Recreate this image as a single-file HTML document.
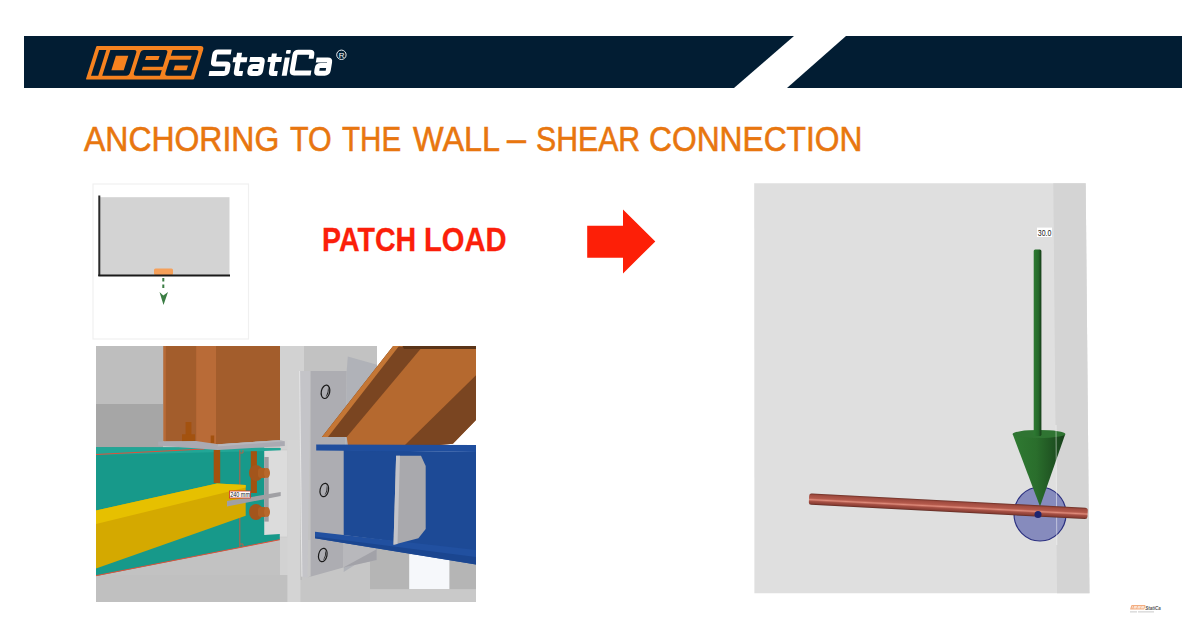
<!DOCTYPE html>
<html><head><meta charset="utf-8">
<style>
html,body{margin:0;padding:0;background:#fff;}
body{width:1200px;height:630px;position:relative;overflow:hidden;font-family:"Liberation Sans",sans-serif;}
.abs{position:absolute;}
.tw{top:119px;font-size:35px;-webkit-text-stroke:0.6px #e8760f;color:#e8760f;white-space:nowrap;line-height:40px;transform-origin:0 0;}
.pw{top:222.5px;font-size:33.5px;font-weight:bold;color:#fb1f0a;white-space:nowrap;line-height:34px;transform-origin:0 0;-webkit-text-stroke:0.3px #fb1f0a;}
#statica_unused{left:208px;top:44px;font-size:36px;font-weight:bold;font-style:italic;color:#fff;white-space:nowrap;line-height:40px;transform-origin:0 0;}
</style></head>
<body>
<svg class="abs" style="left:0;top:0" width="1200" height="630" viewBox="0 0 1200 630">
  <!-- header bar -->
  <polygon points="24,36 794,36 734,88 24,88" fill="#021d33"/>
  <polygon points="846,36 1182,36 1182,88 787,88" fill="#021d33"/>
  <!-- IDEA logo -->
  <g transform="translate(85.8,79.6) skewX(-17.5)">
    <path d="M0.80,-33.50 L104.00,-33.50 Q108.00,-33.50 108.00,-29.50 L108.00,-0.80 Q108.00,0.00 107.20,0.00 L0.80,0.00 Q0.00,0.00 0.00,-0.80 L0.00,-32.70 Q0.00,-33.50 0.80,-33.50 Z" fill="#f6821f"/>
    <rect x="4" y="-29.6" width="7.2" height="25.7" fill="#021d33"/>
    <path d="M15.20,-29.60 L39.00,-29.60 Q42.00,-29.60 42.00,-26.60 L42.00,-6.90 Q42.00,-3.90 39.00,-3.90 L15.20,-3.90 Q15.20,-3.90 15.20,-3.90 L15.20,-29.60 Q15.20,-29.60 15.20,-29.60 Z" fill="#021d33"/>
    <rect x="22.6" y="-23.8" width="12.4" height="14.4" fill="#f6821f"/>
    <path d="M49.00,-29.60 L70.00,-29.60 Q73.00,-29.60 73.00,-26.60 L73.00,-3.90 Q73.00,-3.90 73.00,-3.90 L49.00,-3.90 Q46.00,-3.90 46.00,-6.90 L46.00,-26.60 Q46.00,-29.60 49.00,-29.60 Z" fill="#021d33"/>
    <rect x="53" y="-23.6" width="13.3" height="4" fill="#f6821f"/>
    <rect x="53" y="-12.8" width="22" height="3.4" fill="#f6821f"/>
    <path d="M77.50,-29.60 L101.00,-29.60 Q104.00,-29.60 104.00,-26.60 L104.00,-3.90 Q104.00,-3.90 104.00,-3.90 L80.50,-3.90 Q77.50,-3.90 77.50,-6.90 L77.50,-29.60 Q77.50,-29.60 77.50,-29.60 Z" fill="#021d33"/>
    <rect x="75" y="-23.9" width="23.3" height="4" fill="#f6821f"/>
    <rect x="84.7" y="-14" width="13.1" height="4.6" fill="#f6821f"/>
  </g>
</svg>

<!-- patch load diagram -->
<svg class="abs" style="left:0;top:0" width="1200" height="630" viewBox="0 0 1200 630">
  <rect x="93" y="184" width="155.5" height="155" fill="#fff" stroke="#f0f0f0" stroke-width="1.2"/>
  <rect x="99" y="197.2" width="130.5" height="78.3" fill="#d3d3d3"/>
  <rect x="98.3" y="195.5" width="2" height="80.5" fill="#2a2a2a"/>
  <rect x="154" y="268.5" width="19" height="6.5" rx="1.5" fill="#f5a05a"/>
  <rect x="98.3" y="274.5" width="131.7" height="2" fill="#1a1a1a"/>
  <rect x="162.3" y="278" width="2" height="3.5" fill="#3b7d44"/>
  <rect x="162.3" y="284.5" width="2" height="3.5" fill="#3b7d44"/>
  <polygon points="159.5,292 163.3,295.5 168,292 163.5,305" fill="#3b7d44"/>
</svg>
<!-- 3D connection render -->
<svg class="abs" style="left:0;top:0" width="1200" height="630" viewBox="0 0 1200 630">
  <rect x="96" y="346" width="380" height="256" fill="#c2c2c2"/>
  <!-- bg zones -->
  <rect x="96" y="346" width="67" height="58" fill="#bebebe"/>
  <rect x="96" y="404" width="67" height="46" fill="#a6a6a6"/>
  <rect x="280" y="346" width="24" height="256" fill="#d2d2d2"/>
  <rect x="304" y="346" width="73" height="205" fill="#c2c2c2"/>
  <polygon points="377,346 476,346 476,602 377,602" fill="#ffffff"/>
  <rect x="96" y="575" width="200" height="27" fill="#c0c0c0"/>
  <rect x="296" y="540" width="180" height="62" fill="#c6c6c6"/>
  <rect x="370" y="549" width="106" height="40.5" fill="#b5b5b5"/>
  <rect x="409.2" y="554.2" width="40.2" height="35" fill="#f6f8fb"/>
  <rect x="370" y="589.2" width="106" height="12.5" fill="#c9c9c9"/>
  <!-- end plate white zone behind teal beam -->
  <rect x="263" y="450" width="37" height="85" fill="#e2e2e2"/>
  <!-- orange column -->
  <polygon points="163.5,346 280,346 280,440.2 218,444.5 196,441.5 163.5,441.5" fill="#a35d2c"/>
  <rect x="163.5" y="346" width="2.3" height="95" fill="#b86c38"/>
  <polygon points="196.2,346 216,346 216,444.5 196.2,443" fill="#b96b37"/>
  <!-- column bolts -->
  <rect x="185.6" y="422" width="5.8" height="13" fill="#a3520f"/>
  <rect x="182" y="434.3" width="13" height="7" fill="#a3520f"/>
  <rect x="210.7" y="435.5" width="3.5" height="7.5" fill="#a3520f"/>
  <!-- teal beam -->
  <rect x="264" y="450" width="23.4" height="87" fill="#dcdcdc" stroke="#c8c8c8" stroke-width="0.6"/>
  <rect x="287.4" y="440" width="13" height="162" fill="#d4d4d4"/>
  <rect x="300.5" y="440" width="1.5" height="140" fill="#bcbcbc"/>
  <polygon points="96,447.2 264.2,447.5 264.2,535 279.8,534 279.8,539.7 96,576" fill="#17998a"/>
  <polygon points="96,447.2 280.7,447.8 280.7,450.3 264.2,451 96,455" fill="#22a696"/>
  <polyline points="96,454.5 204.3,449" fill="none" stroke="#e0503a" stroke-width="1"/>
  <polyline points="96,575.7 279.8,539.7" fill="none" stroke="#e0503a" stroke-width="1"/>
  <line x1="239.8" y1="450" x2="239.8" y2="548" stroke="#d4553e" stroke-width="0.9"/>
  <polyline points="239.8,453 243,453 243,450" fill="none" stroke="#d4553e" stroke-width="0.8"/>
  <polyline points="239.8,544 243,544 243,547" fill="none" stroke="#d4553e" stroke-width="0.8"/>
  <!-- plate under column -->
  <polygon points="158.2,441.4 196,441 218,444.3 278.4,440.2 284.8,441.3 284.8,446 217.7,450 158.2,445.6" fill="#aaaab2"/>
  <polygon points="218,444.3 278.4,440.2 284.8,441.3 217.7,446.5" fill="#b6b6bc"/>
  <!-- vertical thin plate -->
  <rect x="264.2" y="457" width="4.5" height="64.6" fill="#9d9da2"/>
  <!-- bolt stems -->
  <rect x="213.7" y="450" width="6.5" height="33" fill="#a3520f"/>
  <rect x="250.8" y="451.2" width="6.1" height="41.8" fill="#a3520f"/>
  <!-- yellow beam -->
  <polygon points="96,510.5 217,483.6 245.7,485 245.7,515.7 96,568.5" fill="#d4a900"/>
  <polygon points="96,510.5 217,483.6 245.7,485 245.7,487.5 96,524" fill="#e6c000"/>
  <!-- gray bar -->
  <polygon points="227,501 280.7,492.1 280.7,495.9 227,506.5" fill="#a0a0a4"/>
  <!-- bolt heads -->
  <ellipse cx="256" cy="473" rx="7" ry="8" fill="#a3551c"/>
  <rect x="258" y="468" width="9" height="10" rx="3" fill="#ad5e22"/>
  <ellipse cx="267" cy="473" rx="3" ry="5" fill="#b8682c"/>
  <ellipse cx="256" cy="512" rx="7" ry="8" fill="#a3551c"/>
  <rect x="258" y="507" width="9" height="10" rx="3" fill="#ad5e22"/>
  <ellipse cx="267" cy="512" rx="3" ry="5" fill="#b8682c"/>
  <!-- label -->
  <rect x="229.5" y="491" width="21" height="7" fill="#fff" stroke="#d03020" stroke-width="0.8"/>
  <text x="230.2" y="497.2" font-size="6.8" textLength="19.8" lengthAdjust="spacingAndGlyphs" font-family="Liberation Sans" fill="#111">240 mm</text>
  <!-- end plate -->
  <polygon points="299.3,371 310.6,371 307.5,577.5 301.7,576.7" fill="#c4c4c8"/>
  <line x1="299.6" y1="371" x2="301.9" y2="576.7" stroke="#eeeeee" stroke-width="0.8"/>
  <polygon points="310.6,371 346.7,371 343.3,567.5 307.5,577.5 310.6,576.3" fill="#adadb2"/>
  <polygon points="346.7,371 347.8,356.5 377,364.8 377,551 343.7,572" fill="#b0b2b8"/>
  <g transform="translate(325.5,391.8) rotate(12)"><ellipse cx="0" cy="0" rx="4.2" ry="6.8" fill="none" stroke="#1a1a1a" stroke-width="1.2"/><path d="M1.5,-5.5 Q4.6,0 1.2,5.8 Q3,0 1.5,-5.5 Z" fill="#1a1a1a"/></g>
  <g transform="translate(324.3,490) rotate(12)"><ellipse cx="0" cy="0" rx="4.2" ry="6.8" fill="none" stroke="#1a1a1a" stroke-width="1.2"/><path d="M1.5,-5.5 Q4.6,0 1.2,5.8 Q3,0 1.5,-5.5 Z" fill="#1a1a1a"/></g>
  <g transform="translate(322.8,555) rotate(12)"><ellipse cx="0" cy="0" rx="4.2" ry="6.8" fill="none" stroke="#1a1a1a" stroke-width="1.2"/><path d="M1.5,-5.5 Q4.6,0 1.2,5.8 Q3,0 1.5,-5.5 Z" fill="#1a1a1a"/></g>
  <!-- gusset below blue beam -->
  <polygon points="343.3,542.5 376.7,549.2 376.7,560 343.3,567.5" fill="#b8b8bc"/>
  <polygon points="376.7,549.2 376.7,560 343.3,567.5" fill="#a2a2a8"/>
  <!-- orange inclined beam -->
  <polygon points="322,437 393.2,346 476,346 476,420 452.9,443.8 401.4,448.6 348,446 346.7,437" fill="#b5692f"/>
  <polygon points="322,437 393.2,346 420.5,349 346.7,437" fill="#7a4521"/>
  <polygon points="322,437 393.2,346 399,346 328,437" fill="#c47635"/>
  <polygon points="401.4,448.6 476,375.2 476,420 452.9,443.8" fill="#7a4521"/>
  <polygon points="402.4,346 476,346 476,349 404,349" fill="#5a3418"/>
  <!-- blue I-beam -->
  <polygon points="343.7,450 476,452 476,552 343.7,535" fill="#1d4a96"/>
  <polygon points="316.2,444.5 476,445 476,452 316.2,450.5" fill="#1f4e9e"/>
  <polygon points="315,531.7 476,550 476,564.5 315,538.3" fill="#2150a0"/>
  <polygon points="315,536.5 476,557 476,564.5 315,538.3" fill="#1b4690"/>
  <!-- stiffener -->
  <polygon points="396.1,455.7 421,455.7 425.7,466 425.7,529 418.4,538.3 393.5,544.8" fill="#a9a9ad"/>
  <polygon points="396.1,455.7 400,455.7 397.5,544 393.5,544.8" fill="#c4c4c8"/>
</svg>
<!-- big arrow -->
<svg class="abs" style="left:0;top:0" width="1200" height="630" viewBox="0 0 1200 630">
  <polygon points="587.2,225.8 623,225.8 623,209.5 655.3,241.4 623,273.4 623,257.8 587.2,257.8" fill="#fd1f07"/>
</svg>
<!-- right render -->
<svg class="abs" style="left:0;top:0" width="1200" height="630" viewBox="0 0 1200 630">
  <defs>
    <linearGradient id="cone" x1="0" x2="1" y1="0" y2="0">
      <stop offset="0" stop-color="#2f7a32"/>
      <stop offset="0.45" stop-color="#2a6e2c"/>
      <stop offset="1" stop-color="#17401a"/>
    </linearGradient>
    <linearGradient id="shaft" x1="0" x2="1" y1="0" y2="0">
      <stop offset="0" stop-color="#2d7a32"/>
      <stop offset="0.6" stop-color="#256a2a"/>
      <stop offset="1" stop-color="#163c18"/>
    </linearGradient>
    <linearGradient id="rod" x1="0" x2="0" y1="0" y2="1">
      <stop offset="0" stop-color="#6a2e24"/>
      <stop offset="0.15" stop-color="#a14c40"/>
      <stop offset="0.42" stop-color="#b45a4c"/>
      <stop offset="0.55" stop-color="#de8a7a"/>
      <stop offset="0.68" stop-color="#a85246"/>
      <stop offset="0.88" stop-color="#8a3e34"/>
      <stop offset="1" stop-color="#5a2820"/>
    </linearGradient>
  </defs>
  <polygon points="754.2,183.2 1085.7,183.2 1089.5,593.3 754.4,593.3" fill="#dfdfdf"/>
  <polygon points="1053.3,183.2 1085.7,183.2 1089.5,593.3 1057,593.3" fill="#d4d4d4"/>
  <rect x="1037" y="227.6" width="15" height="9.4" fill="#fff"/>
  <text x="1037.8" y="235.8" font-size="9" textLength="13.6" lengthAdjust="spacingAndGlyphs" font-family="Liberation Sans" fill="#1a1a1a">30.0</text>

  <ellipse cx="1040" cy="514" rx="26" ry="27" fill="#868bbd" stroke="#2b3080" stroke-width="1.2"/>
  <polygon points="1012.6,434 1065.3,434 1040,506.4" fill="url(#cone)"/>
  <ellipse cx="1039" cy="434" rx="26.4" ry="4" fill="#2f7432"/>
  <rect x="1033.7" y="249.5" width="7.7" height="186.5" rx="1.5" fill="url(#shaft)"/>
  <line x1="1056" y1="425" x2="1056.8" y2="545" stroke="#ffffff" stroke-opacity="0.55" stroke-width="0.9"/>
  <g transform="rotate(2.99 809 499)">
    <rect x="809" y="493.3" width="279" height="11.4" rx="2.5" fill="url(#rod)"/>
  </g>
  <circle cx="1038" cy="514.6" r="3.5" fill="#1c2470"/>
</svg>
<!-- small bottom-right logo -->
<svg class="abs" style="left:0;top:0" width="1200" height="630" viewBox="0 0 1200 630">
  <g transform="translate(1130,609.6) skewX(-17.5)">
    <rect x="0" y="-4.6" width="14.2" height="4.6" rx="0.6" fill="#f3ad80"/>
    <rect x="1.2" y="-3.6" width="0.8" height="2.6" fill="#fbe3d2"/>
    <rect x="3" y="-3.6" width="3" height="2.6" fill="#fbe3d2"/>
    <rect x="6.8" y="-3.6" width="3" height="2.6" fill="#fbe3d2"/>
    <rect x="10.4" y="-3.6" width="3" height="2.6" fill="#fbe3d2"/>
  </g>
  <text x="1145.3" y="609.7" font-size="5.6" textLength="15.5" lengthAdjust="spacingAndGlyphs" font-style="italic" font-weight="bold" font-family="Liberation Sans" fill="#555">StatiCa</text>
  <rect x="1130" y="611.2" width="7" height="1.3" fill="#d6d6d6"/>
  <rect x="1138" y="611.2" width="16" height="1.3" fill="#d6d6d6"/>
</svg>
<svg class="abs" style="left:0;top:0" width="1200" height="630" viewBox="0 0 1200 630">
  <g transform="translate(0,75.8) skewX(-9.65)" fill="none" stroke="#fff" stroke-width="5" stroke-linejoin="round" stroke-linecap="butt">
    <path d="M227.10,-23.85 L213.70,-23.85 Q211.10,-23.85 211.10,-21.25 L211.10,-14.35 Q211.10,-11.75 213.70,-11.75 L223.70,-11.75 Q226.30,-11.75 226.30,-9.15 L226.30,-5.00 Q226.30,-2.40 223.70,-2.40 L208.60,-2.40"/>
    <path d="M235.65,-23.10 L235.65,-4.40 Q235.65,-2.40 237.65,-2.40 L242.30,-2.40"/>
    <path d="M230.30,-16.05 L244.30,-16.05"/>
    <path d="M247.00,-16.25 L257.20,-16.25 Q259.80,-16.25 259.80,-13.65 L259.80,-5.00 Q259.80,-2.40 257.20,-2.40 L251.70,-2.40 Q249.10,-2.40 249.10,-5.00 L249.10,-6.65 Q249.10,-9.25 251.70,-9.25 L259.80,-9.25"/>
    <path d="M270.65,-22.20 L270.65,-4.40 Q270.65,-2.40 272.65,-2.40 L277.00,-2.40"/>
    <path d="M265.10,-16.25 L278.80,-16.25"/>
    <path d="M284.20,-18.40 L284.20,0.00"/>
    <path d="M308.20,-17.10 L308.20,-21.00 Q308.20,-23.60 305.60,-23.60 L294.00,-23.60 Q291.40,-23.60 291.40,-21.00 L291.40,-5.45 Q291.40,-2.85 294.00,-2.85 L310.50,-2.85"/>
    <path d="M313.50,-15.90 L324.70,-15.90 Q327.30,-15.90 327.30,-13.30 L327.30,-5.15 Q327.30,-2.55 324.70,-2.55 L318.50,-2.55 Q315.90,-2.55 315.90,-5.15 L315.90,-7.65 Q315.90,-10.25 318.50,-10.25 L327.30,-10.25"/>
    <rect x="282" y="-25.8" width="4.6" height="3.8" rx="0.8" fill="#fff" stroke="none"/>
  </g>
</svg>
<svg class="abs" style="left:0;top:0" width="1200" height="630" viewBox="0 0 1200 630">
  <circle cx="341.4" cy="54.8" r="4.7" fill="none" stroke="#fff" stroke-width="0.9"/>
  <text x="338.8" y="57.8" font-size="7.8" font-family="Liberation Sans" fill="#fff">R</text>
</svg>
<div class="abs tw" style="left:84.0px;transform:scaleX(0.9127)">ANCHORING</div>
<div class="abs tw" style="left:290.0px;transform:scaleX(0.8681)">TO</div>
<div class="abs tw" style="left:341.7px;transform:scaleX(0.8449)">THE</div>
<div class="abs tw" style="left:412.5px;transform:scaleX(0.9258)">WALL</div>
<div class="abs tw" style="left:507.3px;transform:scaleX(0.9750)">–</div>
<div class="abs tw" style="left:535.6px;transform:scaleX(0.8636)">SHEAR</div>
<div class="abs tw" style="left:648.6px;transform:scaleX(0.9073)">CONNECTION</div>
<div class="abs pw" style="left:321.6px;transform:scaleX(0.853)">PATCH</div>
<div class="abs pw" style="left:424.1px;transform:scaleX(0.870)">LOAD</div>
</body></html>
